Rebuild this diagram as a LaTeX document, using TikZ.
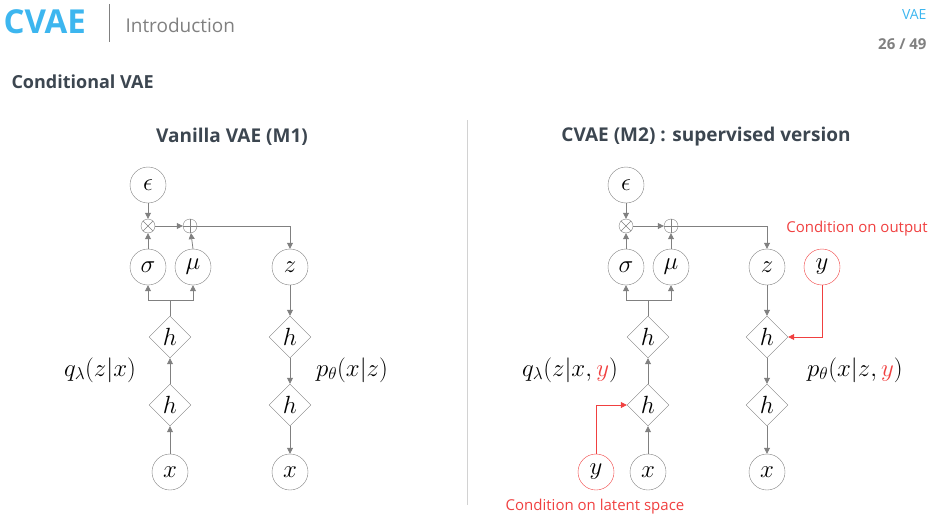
\documentclass[tikz,border=0pt]{standalone}
\usepackage{fontspec}
\setmainfont{Open Sans}
\usetikzlibrary{shapes.geometric,arrows.meta}
\definecolor{cblue}{HTML}{3DB6EF}
\definecolor{lgray}{HTML}{808080}
\definecolor{dslate}{HTML}{3C4650}
\definecolor{cred}{HTML}{F04040}
\begin{document}
\begin{tikzpicture}[x=1pt,y=-1pt,
  mfont/.style={font=\fontsize{24}{28}\selectfont},
  var/.style={circle,draw=lgray,minimum size=36pt,inner sep=0pt,mfont},
  rvar/.style={var,draw=cred},
  hid/.style={diamond,draw=lgray,minimum size=42pt,inner sep=0pt,mfont},
  op/.style={circle,draw=lgray,minimum size=14pt,inner sep=0pt},
  arr/.style={draw=lgray,-{Triangle[length=6pt,width=6pt]},line width=0.8pt},
  rarr/.style={draw=cred,-{Triangle[length=6pt,width=6pt]},line width=0.8pt},
  ttl/.style={font=\bfseries\fontsize{19}{24}\selectfont,text=dslate}]
\useasboundingbox (0,0) rectangle (939,519);
% header
\node[anchor=west,text=cblue,font=\bfseries\fontsize{33}{38}\selectfont] (hc) at (0,22) {CVAE};
\draw[lgray,line width=0.8pt] (109,4) -- (109,42);
\node[anchor=west,text=lgray,font=\fontsize{19}{22}\selectfont] (hi) at (122,25) {Introduction};
\node[anchor=east,text=cblue,font=\fontsize{14}{16}\selectfont] (hv) at (930,14) {VAE};
\node[anchor=east,text=lgray,font=\bfseries\fontsize{15}{18}\selectfont] (hp) at (930,44) {26 / 49};
\node[anchor=west,text=dslate,font=\bfseries\fontsize{18}{21}\selectfont] (hs) at (8,82) {Conditional VAE};
\draw[lightgray!70] (467,120) -- (467,505);
% left
\node[ttl] (t1) at (232,137) {Vanilla VAE (M1)};
\node[var] (e1) at (148,185) {$\epsilon$};
\node[op] (m1) at (148,226) {};
\draw[lgray] (m1.north west) -- (m1.south east) (m1.north east) -- (m1.south west);
\node[op] (p1) at (190,226) {};
\draw[lgray] (p1.north) -- (p1.south) (p1.west) -- (p1.east);
\node[var] (s1) at (148,267) {$\sigma$};
\node[var] (u1) at (193,267) {$\mu$};
\node[var] (z1) at (290,267) {$z$};
\node[hid] (ha) at (170,337) {$h$};
\node[hid] (hb) at (170,405) {$h$};
\node[hid] (hc2) at (290,337) {$h$};
\node[hid] (hd) at (290,405) {$h$};
\node[var] (xa) at (170,472) {$x$};
\node[var] (xb) at (290,472) {$x$};
\coordinate (j1) at (170,300);
\draw[arr] (e1) -- (m1);
\draw[arr] (s1) -- (m1);
\draw[arr] (u1.north) -- (p1);
\draw[arr] (m1) -- (p1);
\draw[arr] (p1.east) -| (z1.north);
\draw[lgray,line width=0.8pt] (ha.north) -- (j1);
\draw[arr] (j1) -| (s1.south);
\draw[arr] (j1) -| (u1.south);
\draw[arr] (hb) -- (ha);
\draw[arr] (xa) -- (hb);
\draw[arr] (z1) -- (hc2);
\draw[arr] (hc2) -- (hd);
\draw[arr] (hd) -- (xb);
\node[mfont] (q1) at (100,370) {$q_\lambda(z|x)$};
\node[mfont] (pl1) at (352,370) {$p_\theta(x|z)$};
% right
\node[ttl] (t2) at (706,137) {CVAE (M2) : supervised version};
\node[var] (e2) at (626,185) {$\epsilon$};
\node[op] (m2) at (626,226) {};
\draw[lgray] (m2.north west) -- (m2.south east) (m2.north east) -- (m2.south west);
\node[op] (p2) at (671,226) {};
\draw[lgray] (p2.north) -- (p2.south) (p2.west) -- (p2.east);
\node[var] (s2) at (626,267) {$\sigma$};
\node[var] (u2) at (671,267) {$\mu$};
\node[var] (z2) at (767,267) {$z$};
\node[rvar] (y1) at (822,267) {$y$};
\node[hid] (he) at (648,337) {$h$};
\node[hid] (hf) at (648,405) {$h$};
\node[hid] (hg) at (767,337) {$h$};
\node[hid] (hh) at (767,405) {$h$};
\node[var] (xc) at (648,472) {$x$};
\node[rvar] (y2) at (596,472) {$y$};
\node[var] (xd) at (767,472) {$x$};
\coordinate (j2) at (648,300);
\draw[arr] (e2) -- (m2);
\draw[arr] (s2) -- (m2);
\draw[arr] (u2.north) -- (p2);
\draw[arr] (m2) -- (p2);
\draw[arr] (p2.east) -| (z2.north);
\draw[lgray,line width=0.8pt] (he.north) -- (j2);
\draw[arr] (j2) -| (s2.south);
\draw[arr] (j2) -| (u2.south);
\draw[arr] (hf) -- (he);
\draw[arr] (xc) -- (hf);
\draw[arr] (z2) -- (hg);
\draw[arr] (hg) -- (hh);
\draw[arr] (hh) -- (xd);
\draw[rarr] (y1.south) |- (hg.east);
\draw[rarr] (y2.north) |- (hf.west);
\node[mfont] (q2) at (570,370) {$q_\lambda(z|x,\textcolor{cred}{y})$};
\node[mfont] (pl2) at (855,370) {$p_\theta(x|z,\textcolor{cred}{y})$};
\node[text=cred,font=\fontsize{15}{18}\selectfont] (co) at (857,229) {Condition on output};
\node[text=cred,font=\fontsize{15}{18}\selectfont] (cl) at (595,507) {Condition on latent space};
\end{tikzpicture}
\end{document}
